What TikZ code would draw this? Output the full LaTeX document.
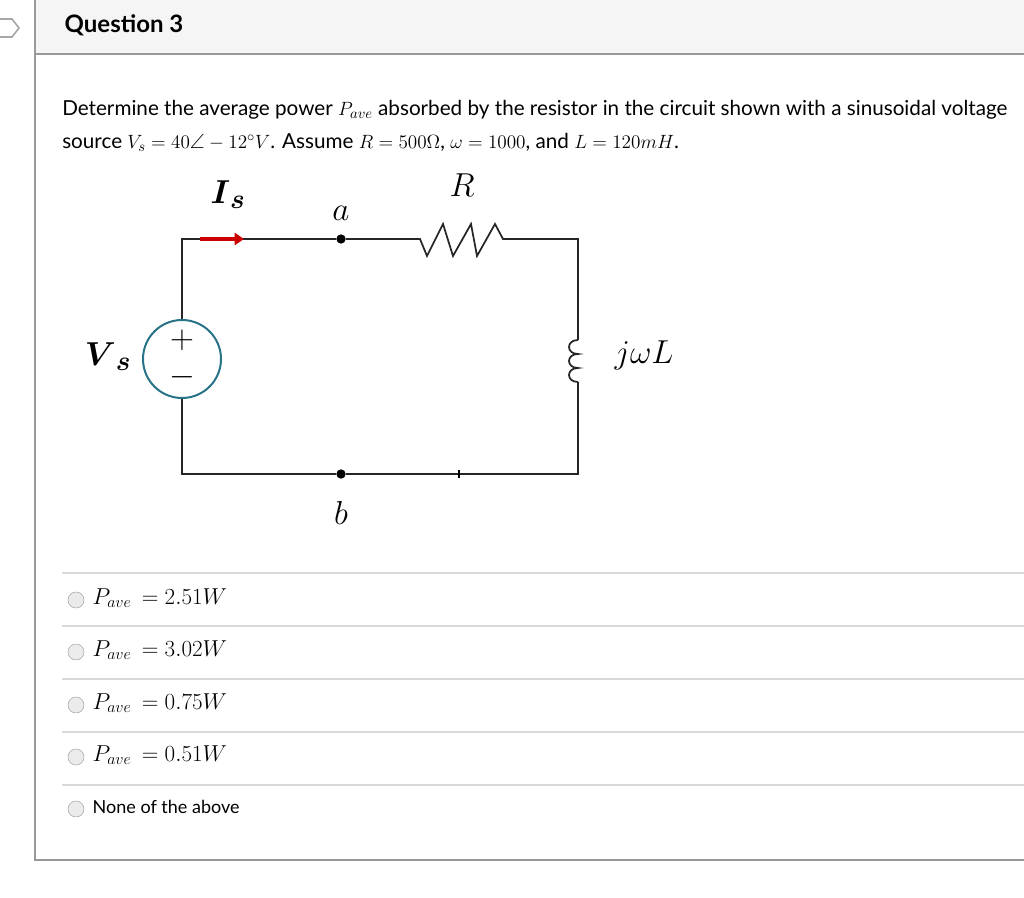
\documentclass[tikz,border=0pt]{standalone}
\usepackage{fontspec}
\setmainfont{Lato}
\usepackage{amsmath,amssymb}
\usetikzlibrary{arrows.meta}
\begin{document}
\begin{tikzpicture}[x=0.75pt,y=-0.75pt,
  wire/.style={line width=1.3pt,black!85},
  sep/.style={draw=black!15,line width=0.8pt},
  radio/.style={circle,draw=black!35,fill=black!8,minimum size=12pt,inner sep=0pt},
  opt/.style={anchor=west,font=\fontsize{16.5}{18}\selectfont},
  dot/.style={circle,fill=black,inner sep=0pt,minimum size=7pt},
  lbl/.style={font=\fontsize{30}{32}\selectfont}]
\useasboundingbox (0,0) rectangle (1024,898);
\fill[black!4] (35,0) rectangle (1024,54);
\draw[black!40,line width=1pt] (35,54) -- (1024,54);
\draw[black!40,line width=1pt] (35,0) -- (35,860) -- (1024,860);
\draw[black!35,line width=1.2pt] (0,19) -- (12,19) -- (19,28) -- (12,37) -- (0,37);
\node[anchor=west,font=\fontsize{18}{20}\selectfont\bfseries] (q) at (60,25) {Question 3};
\node[anchor=west,font=\fontsize{15.5}{17}\selectfont,inner sep=0pt] (t1) at (62,110) {Determine the average power $P_{ave}$ absorbed by the resistor in the circuit shown with a sinusoidal voltage};
\node[anchor=west,font=\fontsize{15.5}{17}\selectfont,inner sep=0pt] (t2) at (62,142) {source $V_s=40\angle-12^\circ V$. Assume $R=500\Omega$, $\omega=1000$, and $L=120mH$.};
% circuit
\coordinate (tl) at (182,239); \coordinate (tr) at (578,239);
\coordinate (bl) at (182,474); \coordinate (br) at (578,474);
\node[circle,draw={rgb,255:red,40;green,115;blue,135},line width=1.5pt,minimum size=78*0.75pt,inner sep=0pt] (src) at (182,359) {};
\node[font=\fontsize{24}{24}\selectfont] (plus) at (182,340) {$+$};
\node[font=\fontsize{24}{24}\selectfont] (minus) at (182,377) {$-$};
\node[dot] (a) at (341,239) {};
\node[dot] (b) at (341,474) {};
\coordinate (r1) at (420,239); \coordinate (r2) at (505,239);
\coordinate (l1) at (578,340); \coordinate (l2) at (578,382);
\draw[wire] (src.north) -- (tl) -- (a) -- (r1)
  -- (427,256) -- (443,224) -- (453,256) -- (471,224) -- (477,256) -- (495,224) -- (503,239)
  -- (r2) -- (tr) -- (l1);
\draw[wire] (l1) .. controls (566,340) and (566,354) .. (578,354)
  .. controls (566,354) and (566,368) .. (578,368)
  .. controls (566,368) and (566,382) .. (l2);
\draw[wire] (l2) -- (br) -- (b) -- (bl) -- (src.south);
\draw[line width=1pt] (459,470) -- (459,478);
\draw[red!80!black,line width=3pt,-{Triangle[length=7pt,width=9pt]}] (200,239) -- (244,239);
\node[lbl] (al) at (341,213) {$a$};
\node[lbl] (bl2) at (341,513) {$b$};
\node[lbl] (rl) at (462,185) {$R$};
\node[lbl] (il) at (228,195) {$\boldsymbol{I}_{\boldsymbol{s}}$};
\node[lbl] (vl) at (108,357) {$\boldsymbol{V}_{\boldsymbol{s}}$};
\node[lbl,anchor=west] (ll) at (610,355) {$j\omega L$};
% options
\foreach \y in {573,626,679,732,785} \draw[sep] (62,\y) -- (1024,\y);
\node[radio] (o1) at (76,600) {}; \node[opt] (p1) at (88,598) {$P_{ave}\,=2.51W$};
\node[radio] (o2) at (76,652) {}; \node[opt] (p2) at (88,650) {$P_{ave}\,=3.02W$};
\node[radio] (o3) at (76,705) {}; \node[opt] (p3) at (88,703) {$P_{ave}\,=0.75W$};
\node[radio] (o4) at (76,757) {}; \node[opt] (p4) at (88,755) {$P_{ave}\,=0.51W$};
\node[radio] (o5) at (76,809) {}; \node[opt,font=\fontsize{13.5}{15}\selectfont] (p5) at (88,807) {None of the above};
\end{tikzpicture}
\end{document}
